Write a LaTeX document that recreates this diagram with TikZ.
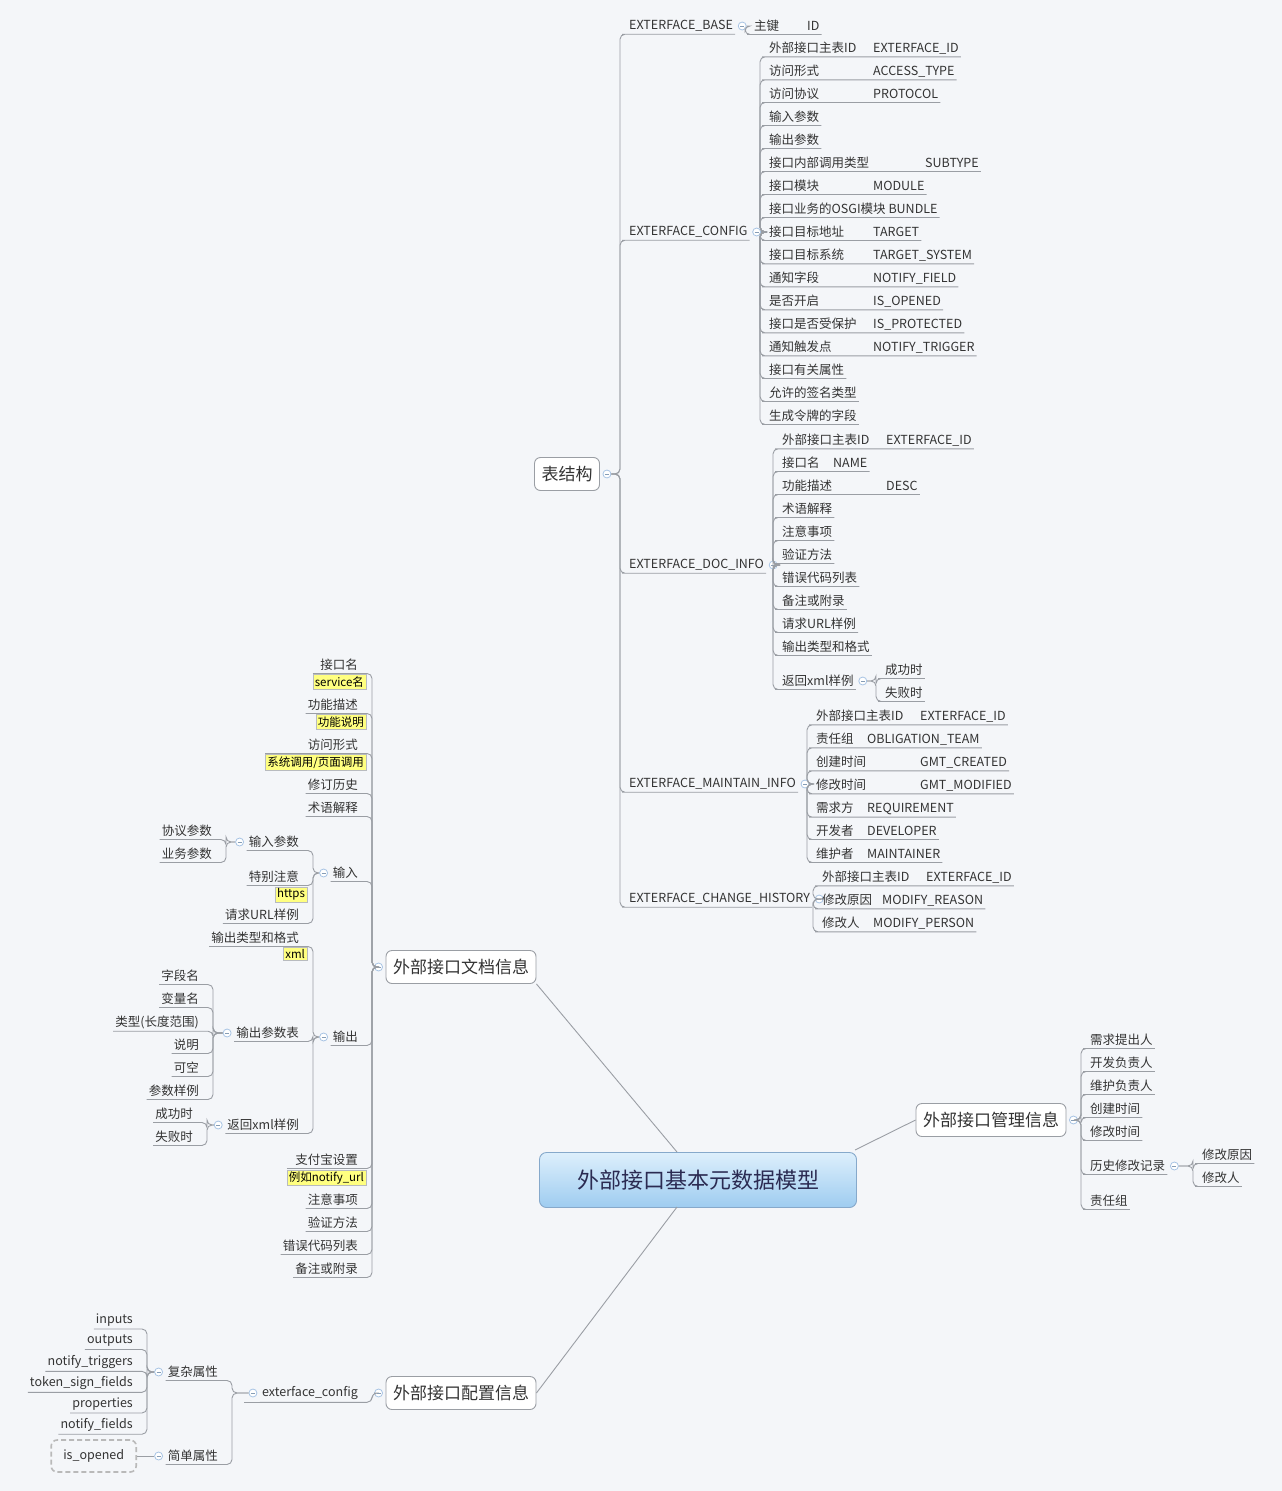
\documentclass[tikz,border=0pt]{standalone}
\usepackage{fontspec}
\setmainfont{Noto Sans CJK SC}
\usetikzlibrary{calc}
\definecolor{bg}{HTML}{F4F6F9}
\definecolor{ln}{HTML}{9A9EA4}
\definecolor{tx}{HTML}{333333}
\definecolor{notey}{HTML}{FFFF80}
\definecolor{cbTop}{HTML}{DDEFFC}
\definecolor{cbBot}{HTML}{9ECCF0}
\definecolor{cbLn}{HTML}{86A9CB}
\definecolor{tgc}{HTML}{A8C4E4}
\tikzset{
 lf/.style={inner xsep=2pt,inner ysep=2.5pt,font=\fontsize{12.5}{14}\selectfont,text=tx},
 conn/.style={draw=ln,line width=0.9pt,rounded corners=5pt},
 note/.style={fill=notey,draw=ln!70,line width=0.5pt,inner sep=1.8pt,font=\fontsize{11.5}{13}\selectfont,anchor=north east},
 tog/.style={circle,draw=tgc,fill=white,line width=0.8pt,minimum size=8pt,inner sep=0pt,
   path picture={\draw[tgc!80!black,line width=0.8pt] ([xshift=-2pt]path picture bounding box.center) -- ([xshift=2pt]path picture bounding box.center);}},
 mbox/.style={draw=ln,fill=white,rounded corners=6pt,line width=0.9pt,font=\fontsize{17}{20}\selectfont,text=tx,minimum height=33pt,inner xsep=7pt},
}
\newcommand\RC[5]{\path (#3) ++(7,#4) node[lf,anchor=west] (#1) {#5};
 \draw[conn] (#2) -- (#2 -| #3) |- (#1.south west) -- (#1.south east);}
\newcommand\LC[5]{\path (#3) ++(-12,#4) node[lf,anchor=east] (#1) {#5};
 \draw[conn] (#2) -- (#2 -| #3) |- (#1.south east) -- (#1.south west);}
\newcommand\LN[6]{\LC{#1}{#2}{#3}{#4}{#5}
 \node[note] (#1n) at ($(#1.south east)+(6,1)$) {#6};
 \draw[conn] (#1n.west |- #1.south) -- (#1.south west);}
\newcommand\TGR[2]{\node[tog] (#1) at ($(#2.east)+(7,0)$) {};}
\newcommand\TGL[2]{\node[tog] (#1) at ($(#2.west)+(-7,0)$) {};}
\newcommand\cl[3]{\makebox[#1pt][l]{#2}#3}
\begin{document}
\begin{tikzpicture}[x=1pt,y=-1pt]
\fill[bg] (0,0) rectangle (1282,1491);
\useasboundingbox (0,0) rectangle (1282,1491);
% spines
\coordinate (s0) at (620,0);
\coordinate (sB) at (745,0);
\coordinate (sCfg) at (760,0);
\coordinate (sDoc) at (773,0);
\coordinate (sXml) at (876,0);
\coordinate (sMnt) at (807,0);
\coordinate (sChg) at (813,0);
\coordinate (sD) at (372,0);
\coordinate (sIn) at (313,0);
\coordinate (sInP) at (226,0);
\coordinate (sOut) at (313,0);
\coordinate (sOP) at (213,0);
\coordinate (sOX) at (207,0);
\coordinate (sM) at (1081,0);
\coordinate (sMH) at (1193,0);
\coordinate (sP) at (372,0);
\coordinate (sPc) at (232,0);
\coordinate (sPx) at (147,0);
% main nodes
\node[draw=cbLn,top color=cbTop,bottom color=cbBot,rounded corners=7pt,line width=0.9pt,
  minimum width=317pt,minimum height=55pt,font=\fontsize{22}{26}\selectfont,text=tx!85!blue] (cen) at (698,1180) {外部接口基本元数据模型};
\node[mbox] (tab) at (567,474) {表结构};
\node[mbox] (doc) at (461,967) {外部接口文档信息};
\node[mbox] (mgt) at (991,1120) {外部接口管理信息};
\node[mbox] (cfg) at (461,1393) {外部接口配置信息};
\coordinate (a1) at (677,1152);
\coordinate (a2) at (855,1150);
\coordinate (a3) at (677,1207);
\draw[draw=ln,line width=0.9pt] (a1) -- (doc.south east);
\draw[draw=ln,line width=0.9pt] (a2) -- (mgt.west);
\draw[draw=ln,line width=0.9pt] (a3) -- (cfg.east);
\TGR{cTab}{tab}
\TGL{cDoc}{doc}
\TGR{cMgt}{mgt}
\TGL{cCfg}{cfg}
% ===== 表结构
\RC{tBase}{cTab.east}{s0}{26}{EXTERFACE\_BASE}
\RC{tCfg}{cTab.east}{s0}{232}{EXTERFACE\_CONFIG}
\RC{tDoc}{cTab.east}{s0}{565}{EXTERFACE\_DOC\_INFO}
\RC{tMnt}{cTab.east}{s0}{784}{EXTERFACE\_MAINTAIN\_INFO}
\RC{tChg}{cTab.east}{s0}{899}{EXTERFACE\_CHANGE\_HISTORY}
\TGR{cBase}{tBase}\TGR{cCfgT}{tCfg}\TGR{cDocT}{tDoc}\TGR{cMnt}{tMnt}\TGR{cChg}{tChg}
\RC{b1}{cBase.east}{sB}{26}{\cl{53}{主键}{ID}}
\RC{g1}{cCfgT.east}{sCfg}{48}{\cl{104}{外部接口主表ID}{EXTERFACE\_ID}}
\RC{g2}{cCfgT.east}{sCfg}{71}{\cl{104}{访问形式}{ACCESS\_TYPE}}
\RC{g3}{cCfgT.east}{sCfg}{94}{\cl{104}{访问协议}{PROTOCOL}}
\RC{g4}{cCfgT.east}{sCfg}{117}{输入参数}
\RC{g5}{cCfgT.east}{sCfg}{140}{输出参数}
\RC{g6}{cCfgT.east}{sCfg}{163}{\cl{156}{接口内部调用类型}{SUBTYPE}}
\RC{g7}{cCfgT.east}{sCfg}{186}{\cl{104}{接口模块}{MODULE}}
\RC{g8}{cCfgT.east}{sCfg}{209}{接口业务的OSGI模块 BUNDLE}
\RC{g9}{cCfgT.east}{sCfg}{232}{\cl{104}{接口目标地址}{TARGET}}
\RC{g10}{cCfgT.east}{sCfg}{255}{\cl{104}{接口目标系统}{TARGET\_SYSTEM}}
\RC{g11}{cCfgT.east}{sCfg}{278}{\cl{104}{通知字段}{NOTIFY\_FIELD}}
\RC{g12}{cCfgT.east}{sCfg}{301}{\cl{104}{是否开启}{IS\_OPENED}}
\RC{g13}{cCfgT.east}{sCfg}{324}{\cl{104}{接口是否受保护}{IS\_PROTECTED}}
\RC{g14}{cCfgT.east}{sCfg}{347}{\cl{104}{通知触发点}{NOTIFY\_TRIGGER}}
\RC{g15}{cCfgT.east}{sCfg}{370}{接口有关属性}
\RC{g16}{cCfgT.east}{sCfg}{393}{允许的签名类型}
\RC{g17}{cCfgT.east}{sCfg}{416}{生成令牌的字段}
\RC{d1}{cDocT.east}{sDoc}{440}{\cl{104}{外部接口主表ID}{EXTERFACE\_ID}}
\RC{d2}{cDocT.east}{sDoc}{463}{\cl{51}{接口名}{NAME}}
\RC{d3}{cDocT.east}{sDoc}{486}{\cl{104}{功能描述}{DESC}}
\RC{d4}{cDocT.east}{sDoc}{509}{术语解释}
\RC{d5}{cDocT.east}{sDoc}{532}{注意事项}
\RC{d6}{cDocT.east}{sDoc}{555}{验证方法}
\RC{d7}{cDocT.east}{sDoc}{578}{错误代码列表}
\RC{d8}{cDocT.east}{sDoc}{601}{备注或附录}
\RC{d9}{cDocT.east}{sDoc}{624}{请求URL样例}
\RC{d10}{cDocT.east}{sDoc}{647}{输出类型和格式}
\RC{d11}{cDocT.east}{sDoc}{681}{返回xml样例}
\TGR{cXml}{d11}
\RC{x1}{cXml.east}{sXml}{670}{成功时}
\RC{x2}{cXml.east}{sXml}{693}{失败时}
\RC{m1}{cMnt.east}{sMnt}{716}{\cl{104}{外部接口主表ID}{EXTERFACE\_ID}}
\RC{m2}{cMnt.east}{sMnt}{739}{\cl{51}{责任组}{OBLIGATION\_TEAM}}
\RC{m3}{cMnt.east}{sMnt}{762}{\cl{104}{创建时间}{GMT\_CREATED}}
\RC{m4}{cMnt.east}{sMnt}{785}{\cl{104}{修改时间}{GMT\_MODIFIED}}
\RC{m5}{cMnt.east}{sMnt}{808}{\cl{51}{需求方}{REQUIREMENT}}
\RC{m6}{cMnt.east}{sMnt}{831}{\cl{51}{开发者}{DEVELOPER}}
\RC{m7}{cMnt.east}{sMnt}{854}{\cl{51}{维护者}{MAINTAINER}}
\RC{h1}{cChg.east}{sChg}{877}{\cl{104}{外部接口主表ID}{EXTERFACE\_ID}}
\RC{h2}{cChg.east}{sChg}{900}{\cl{60}{修改原因}{MODIFY\_REASON}}
\RC{h3}{cChg.east}{sChg}{923}{\cl{51}{修改人}{MODIFY\_PERSON}}
% ===== 文档信息
\LN{o1}{cDoc.west}{sD}{665}{接口名}{service名}
\LN{o2}{cDoc.west}{sD}{705}{功能描述}{功能说明}
\LN{o3}{cDoc.west}{sD}{745}{访问形式}{系统调用/页面调用}
\LC{o4}{cDoc.west}{sD}{785}{修订历史}
\LC{o5}{cDoc.west}{sD}{808}{术语解释}
\LC{oIn}{cDoc.west}{sD}{873}{输入}
\LC{oOut}{cDoc.west}{sD}{1037}{输出}
\LN{o6}{cDoc.west}{sD}{1160}{支付宝设置}{例如notify\_url}
\LC{o7}{cDoc.west}{sD}{1200}{注意事项}
\LC{o8}{cDoc.west}{sD}{1223}{验证方法}
\LC{o9}{cDoc.west}{sD}{1246}{错误代码列表}
\LC{o10}{cDoc.west}{sD}{1269}{备注或附录}
\TGL{cIn}{oIn}\TGL{cOut}{oOut}
\LC{i1}{cIn.west}{sIn}{842}{输入参数}
\LN{i2}{cIn.west}{sIn}{877}{特别注意}{https}
\LC{i3}{cIn.west}{sIn}{915}{请求URL样例}
\TGL{cInP}{i1}
\LC{ip1}{cInP.west}{sInP}{831}{协议参数}
\LC{ip2}{cInP.west}{sInP}{854}{业务参数}
\LN{u1}{cOut.west}{sOut}{938}{输出类型和格式}{xml}
\LC{u2}{cOut.west}{sOut}{1033}{输出参数表}
\LC{u3}{cOut.west}{sOut}{1125}{返回xml样例}
\TGL{cOP}{u2}\TGL{cOX}{u3}
\LC{p1}{cOP.west}{sOP}{976}{字段名}
\LC{p2}{cOP.west}{sOP}{999}{变量名}
\LC{p3}{cOP.west}{sOP}{1022}{类型(长度范围)}
\LC{p4}{cOP.west}{sOP}{1045}{说明}
\LC{p5}{cOP.west}{sOP}{1068}{可空}
\LC{p6}{cOP.west}{sOP}{1091}{参数样例}
\LC{r1}{cOX.west}{sOX}{1114}{成功时}
\LC{r2}{cOX.west}{sOX}{1137}{失败时}
% ===== 管理信息
\RC{k1}{cMgt.east}{sM}{1040}{需求提出人}
\RC{k2}{cMgt.east}{sM}{1063}{开发负责人}
\RC{k3}{cMgt.east}{sM}{1086}{维护负责人}
\RC{k4}{cMgt.east}{sM}{1109}{创建时间}
\RC{k5}{cMgt.east}{sM}{1132}{修改时间}
\RC{k6}{cMgt.east}{sM}{1166}{历史修改记录}
\RC{k7}{cMgt.east}{sM}{1201}{责任组}
\TGR{cHist}{k6}
\RC{kh1}{cHist.east}{sMH}{1155}{修改原因}
\RC{kh2}{cHist.east}{sMH}{1178}{修改人}
% ===== 配置信息
\LC{e1}{cCfg.west}{sP}{1393}{exterface\_config}
\draw[conn] (e1.south west) -- ++(-16,0);
\TGL{cE}{e1}
\LC{f1}{cE.west}{sPc}{1372}{复杂属性}
\LC{f2}{cE.west}{sPc}{1456}{简单属性}
\TGL{cF1}{f1}\TGL{cF2}{f2}
\LC{q1}{cF1.west}{sPx}{1320}{inputs}
\LC{q2}{cF1.west}{sPx}{1341}{outputs}
\LC{q3}{cF1.west}{sPx}{1362}{notify\_triggers}
\LC{q4}{cF1.west}{sPx}{1383}{token\_sign\_fields}
\LC{q5}{cF1.west}{sPx}{1404}{properties}
\LC{q6}{cF1.west}{sPx}{1425}{notify\_fields}
\path (sPx) ++(-10,1456) node[lf,anchor=east,draw=gray!55,dashed,line width=1.6pt,rounded corners=6pt,minimum width=85pt,minimum height=32pt,dash pattern=on 5pt off 3pt] (q7) {is\_opened};
\draw[conn] (cF2.west) -- (q7.east);
\end{tikzpicture}
\end{document}
